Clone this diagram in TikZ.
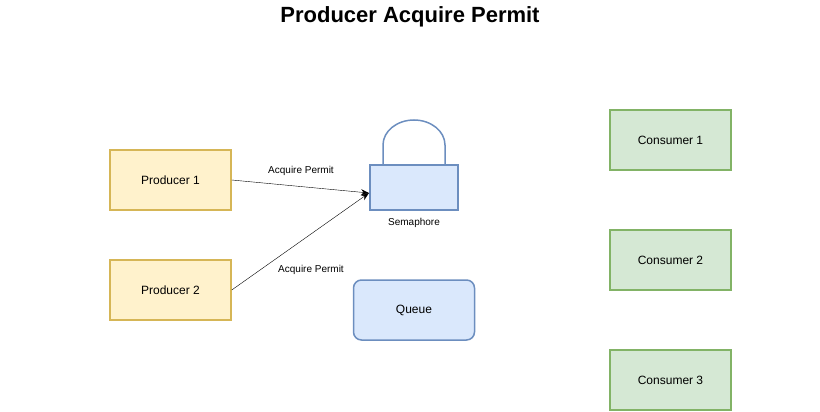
\documentclass[tikz,border=0pt]{standalone}
\usepackage{fontspec}
\setmainfont{Liberation Sans}
\usetikzlibrary{arrows.meta}

\definecolor{prodfill}{HTML}{FFF2CC}
\definecolor{proddraw}{HTML}{D6B656}
\definecolor{semfill}{HTML}{DAE8FC}
\definecolor{semdraw}{HTML}{6C8EBF}
\definecolor{consfill}{HTML}{D5E8D4}
\definecolor{consdraw}{HTML}{82B366}

\tikzset{
	box/.style = {rectangle, minimum width = 121pt, minimum height = 60pt, line width = 1.5pt, font = \fontsize{12pt}{14pt}\selectfont},
	producer/.style = {box, fill = prodfill, draw = proddraw},
	consumer/.style = {box, fill = consfill, draw = consdraw},
	lbl/.style = {font = \fontsize{10pt}{12pt}\selectfont},
}

\begin{document}
\begin{tikzpicture}[x = 1pt, y = -1pt]
	\useasboundingbox (0, 0) rectangle (820, 412);

	% Titel
	\node (title) at (410, 17) {\fontsize{22pt}{26pt}\selectfont\bfseries Producer Acquire Permit};

	% Producer
	\node [producer] (p1) at (170.5, 180) {Producer 1};
	\node [producer] (p2) at (170.5, 290) {Producer 2};

	% Semaphore
	\begin{scope}[line width = 1.5pt, draw = semdraw]
		\draw [semdraw] (383, 166) -- (383, 145) arc [start angle = 180, end angle = 0, x radius = 31, y radius = -25] -- (445, 166);
		\node [rectangle, fill = semfill, draw = semdraw, minimum width = 88pt, minimum height = 45pt, line width = 1.5pt] (sem) at (414, 187.5) {};
	\end{scope}
	\node [lbl] (semlabel) at (414, 223) {Semaphore};

	% Queue
	\node [box, rounded corners = 8pt, fill = semfill, draw = semdraw] (queue) at (414, 310) {Queue};

	% Consumer
	\foreach \i/\y in {1/140, 2/260, 3/380} {
		\node [consumer] (c\i) at (670.5, \y) {Consumer \i};
	}

	% Pfeile
	\coordinate (tip) at (369, 193);
	\draw [-{Stealth[length = 8pt]}] (p1.east) -- (tip);
	\draw [-{Stealth[length = 8pt]}] (p2.east) -- (tip);
	\node [lbl] (l1) at (301, 171) {Acquire Permit};
	\node [lbl] (l2) at (311, 270) {Acquire Permit};
\end{tikzpicture}
\end{document}
